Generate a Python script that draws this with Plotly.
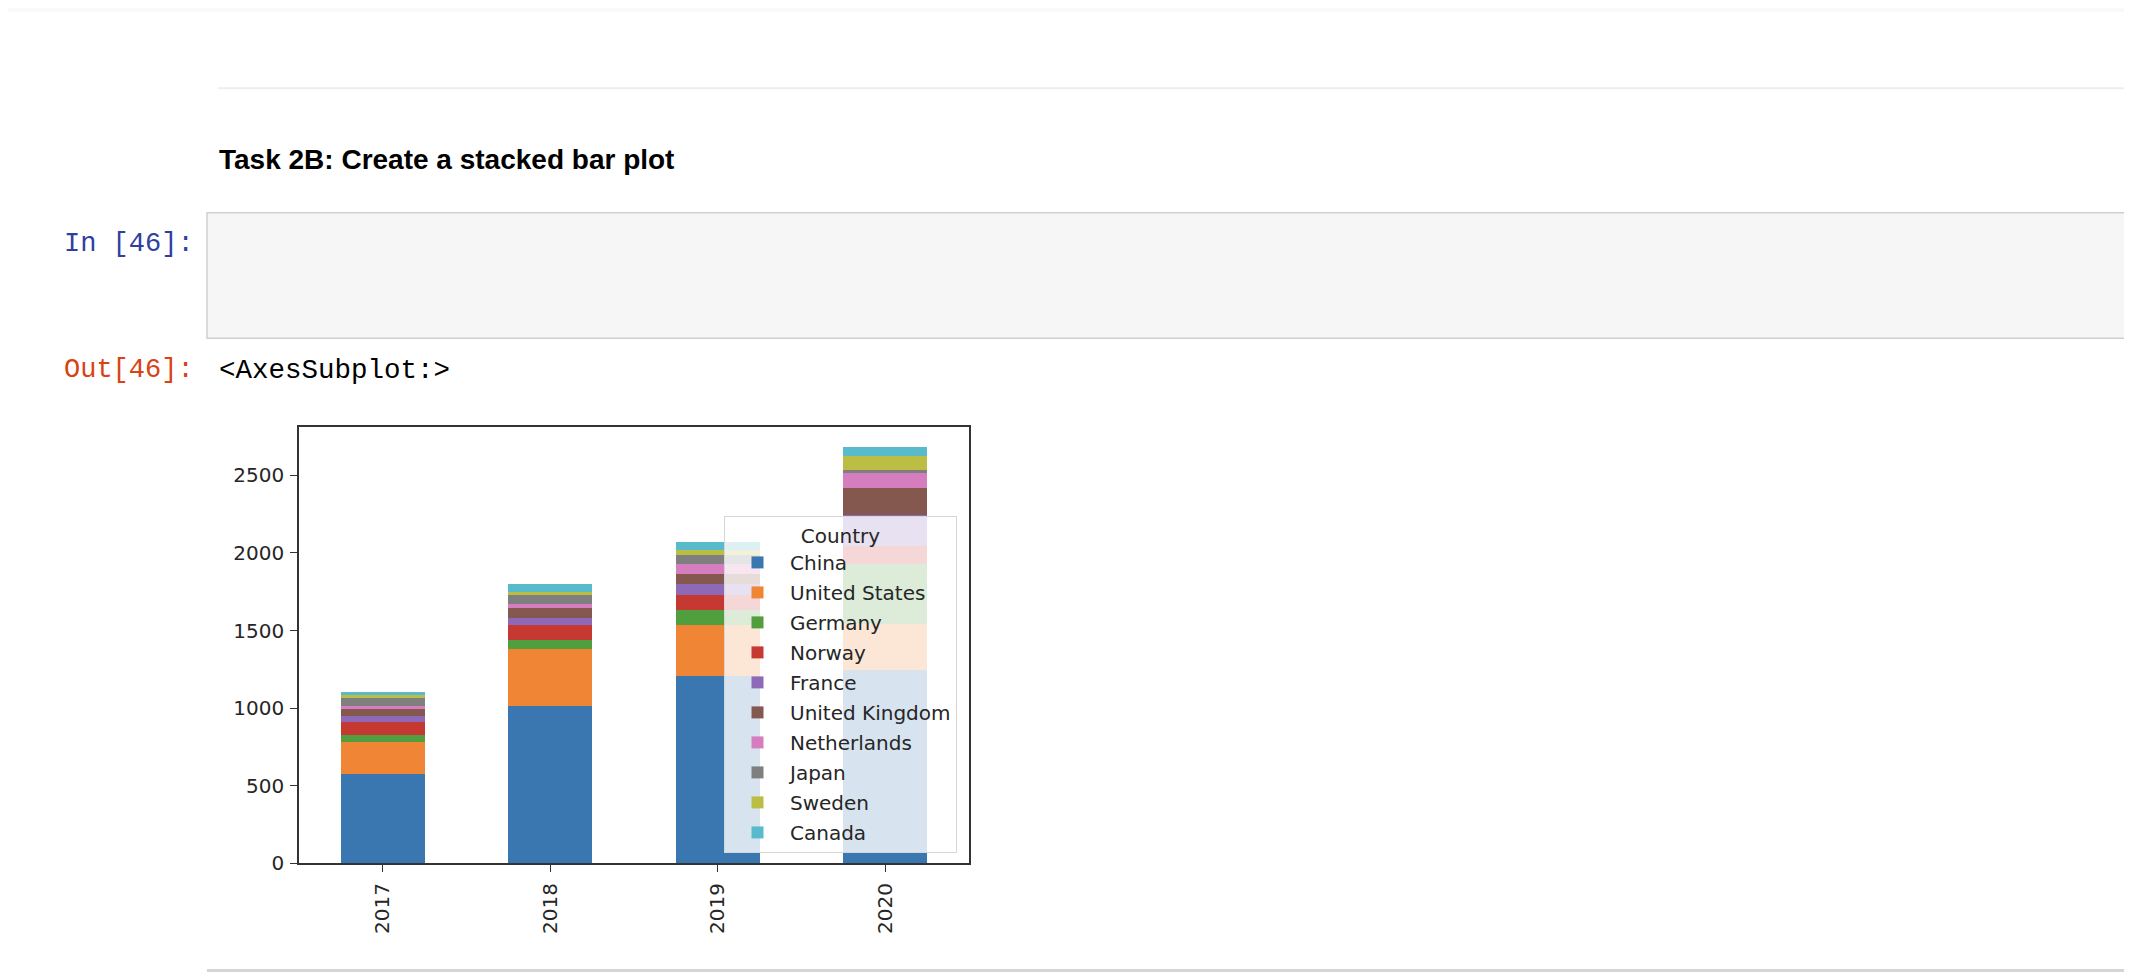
import plotly.graph_objects as go

OFFX = 8  # horizontal page body margin
W, H = 2132 - 2 * OFFX, 976
TOP, VS = 8, 0.984  # observed vertical page offset and compression

years = ["2017", "2018", "2019", "2020"]
countries = ["China", "United States", "Germany", "Norway", "France",
             "United Kingdom", "Netherlands", "Japan", "Sweden", "Canada"]
china = [577, 1016, 1206, 1245]
united_states = [203, 362, 327, 299]
germany = [49, 60, 99, 387]
norway = [80, 95, 95, 114]
france = [43, 50, 71, 199]
united_kingdom = [49, 64, 69, 178]
netherlands = [10, 26, 64, 91]
japan = [55, 56, 54, 24]
sweden = [17, 21, 35, 90]
canada = [22, 52, 52, 54]
y_ticks = [0, 500, 1000, 1500, 2000, 2500]

series = [china, united_states, germany, norway, france,
          united_kingdom, netherlands, japan, sweden, canada]
colors = ["#3A76AF", "#EF8535", "#519E3E", "#C53932", "#8D69B8",
          "#84584E", "#D57DBF", "#7F7F7F", "#BCBD45", "#58BBCC"]


def px(x):
    return (x - OFFX) / W


def py(y):
    yf = (y - TOP) / VS
    return 1 - yf / H


fig = go.Figure()
for name, vals, col in zip(countries, series, colors):
    fig.add_trace(go.Bar(x=years, y=vals, name=name, width=0.5,
                         legendgroup=name,
                         marker=dict(color=col, line=dict(width=0))))

totals = [sum(v) for v in zip(*series)]
ymax = max(totals) * 1.05

tick_font = dict(family="DejaVu Sans", size=20, color="#262626")

fig.update_layout(
    width=W, height=H, autosize=False,
    margin=dict(l=0, r=0, t=0, b=0),
    paper_bgcolor="white", plot_bgcolor="white",
    barmode="stack", bargap=0.5,
    showlegend=True,
    legend=dict(
        x=px(724), y=py(514), xanchor="left", yanchor="top",
        bgcolor="rgba(255,255,255,0.8)", bordercolor="#d6d6d6", borderwidth=1,
        font=dict(family="DejaVu Sans", size=20, color="#262626"),
        title=dict(text="Country", side="top center",
                   font=dict(family="DejaVu Sans", size=20, color="#262626")),
        traceorder="grouped", itemwidth=55, tracegroupgap=1,
    ),
    xaxis=dict(
        domain=[px(299), px(969)], type="category",
        range=[-0.5, 3.5], showgrid=False, zeroline=False,
        showline=True, linecolor="#333333", linewidth=1.6, mirror=True,
        ticks="outside", ticklen=7, tickwidth=1.4, tickcolor="#333333",
        tickangle=-90, tickfont=tick_font, ticklabelstandoff=3,
    ),
    yaxis=dict(
        domain=[py(860), py(425)], range=[0, ymax],
        tickvals=y_ticks, showgrid=False, zeroline=False,
        showline=True, linecolor="#333333", linewidth=1.6, mirror=True,
        ticks="outside", ticklen=7, tickwidth=1.4, tickcolor="#333333",
        tickfont=tick_font, ticklabelstandoff=2,
    ),
)

shapes = [
    # faint top shadow
    dict(type="rect", xref="paper", yref="paper", x0=-0.01, x1=1.01,
         y0=py(12), y1=1.02, fillcolor="rgba(0,0,0,0.025)", line=dict(width=0),
         layer="below"),
    # top separator line
    dict(type="line", xref="paper", yref="paper", x0=px(218), x1=1.01,
         y0=py(88), y1=py(88), line=dict(color="#eeeeee", width=2)),
    # input cell box
    dict(type="rect", xref="paper", yref="paper", x0=px(207), x1=px(2150),
         y0=py(337), y1=py(212), fillcolor="#f6f6f6",
         line=dict(color="#cfcfcf", width=1.5), layer="below"),
    # bottom separator line
    dict(type="line", xref="paper", yref="paper", x0=px(207), x1=1.01,
         y0=1.5 / H, y1=1.5 / H, line=dict(color="#d5d5d5", width=3)),
]
fig.update_layout(shapes=shapes)

annotations = [
    dict(text="<b>Task 2B: Create a stacked bar plot</b>", x=px(217), y=py(159),
         xref="paper", yref="paper", xanchor="left", yanchor="middle",
         showarrow=False,
         font=dict(family="Liberation Sans", size=28, color="#000000")),
    dict(text="In [46]:", x=px(62), y=py(243), xref="paper", yref="paper",
         xanchor="left", yanchor="middle", showarrow=False,
         font=dict(family="Liberation Mono", size=27, color="#303F9F")),
    dict(text="Out[46]:", x=px(62), y=py(369), xref="paper", yref="paper",
         xanchor="left", yanchor="middle", showarrow=False,
         font=dict(family="Liberation Mono", size=27, color="#D84315")),
    dict(text="&lt;AxesSubplot:&gt;", x=px(217), y=py(369), xref="paper",
         yref="paper", xanchor="left", yanchor="middle", showarrow=False,
         font=dict(family="Liberation Mono", size=27.5, color="#000000")),
]
fig.update_layout(annotations=annotations)

fig.write_html("out.html")
